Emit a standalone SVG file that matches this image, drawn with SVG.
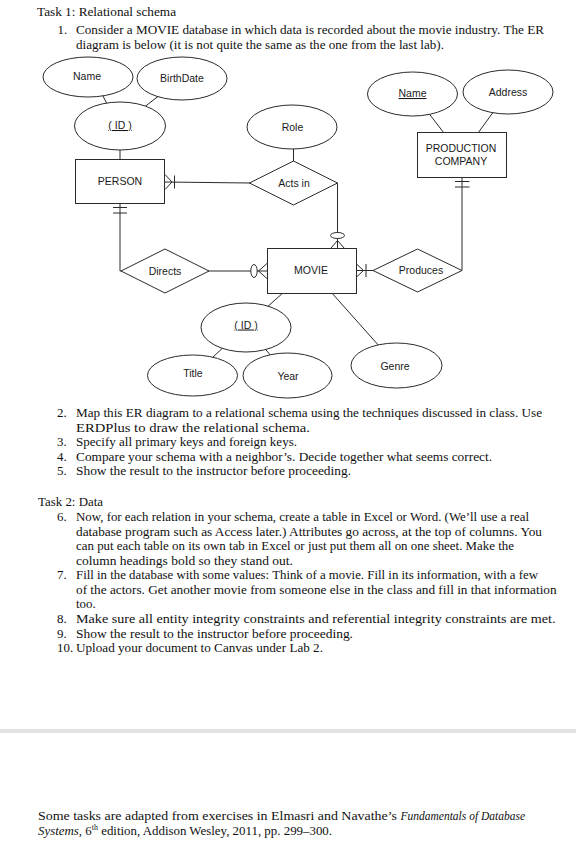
<svg xmlns="http://www.w3.org/2000/svg" width="576" height="842" viewBox="0 0 576 842">
<style>
.bg{fill:#fff}
.ell,.box,.dia{fill:#fff;stroke:#2a2a2a;stroke-width:1}
.cn line,.cn polyline{stroke:#2a2a2a;stroke-width:1;fill:none}
.cn ellipse{fill:#fff;stroke:#2a2a2a;stroke-width:1}
.lbl{font-family:"Liberation Sans",Arial,sans-serif;font-size:10.5px;fill:#1a1a1a;text-anchor:middle}
.u{text-decoration:underline}
.t{font-family:"Liberation Serif","Times New Roman",serif;font-size:12.9px;fill:#111}
.i{font-style:italic}
</style>
<rect class="bg" x="0" y="0" width="576" height="842"/>

<g id="page-text">
<text class="t" x="37" y="16" textLength="139" lengthAdjust="spacingAndGlyphs">Task 1: Relational schema</text>
<text class="t" x="57.5" y="33.5">1.</text>
<text class="t" x="76" y="33.5" textLength="468" lengthAdjust="spacingAndGlyphs">Consider a MOVIE database in which data is recorded about the movie industry. The ER</text>
<text class="t" x="76" y="48.5" textLength="368" lengthAdjust="spacingAndGlyphs">diagram is below (it is not quite the same as the one from the last lab).</text>

<text class="t" x="57" y="417">2.</text>
<text class="t" x="76" y="417" textLength="466" lengthAdjust="spacingAndGlyphs">Map this ER diagram to a relational schema using the techniques discussed in class. Use</text>
<text class="t" x="76" y="431.6" textLength="234" lengthAdjust="spacingAndGlyphs">ERDPlus to draw the relational schema.</text>
<text class="t" x="57" y="446.2">3.</text>
<text class="t" x="76" y="446.2" textLength="221" lengthAdjust="spacingAndGlyphs">Specify all primary keys and foreign keys.</text>
<text class="t" x="57" y="460.8">4.</text>
<text class="t" x="76" y="460.8" textLength="416" lengthAdjust="spacingAndGlyphs">Compare your schema with a neighbor’s. Decide together what seems correct.</text>
<text class="t" x="57" y="475.4">5.</text>
<text class="t" x="76" y="475.4" textLength="275" lengthAdjust="spacingAndGlyphs">Show the result to the instructor before proceeding.</text>

<text class="t" x="38" y="506" textLength="65" lengthAdjust="spacingAndGlyphs">Task 2: Data</text>
<text class="t" x="57" y="521">6.</text>
<text class="t" x="76" y="521" textLength="453" lengthAdjust="spacingAndGlyphs">Now, for each relation in your schema, create a table in Excel or Word. (We’ll use a real</text>
<text class="t" x="76" y="535.5" textLength="466" lengthAdjust="spacingAndGlyphs">database program such as Access later.) Attributes go across, at the top of columns. You</text>
<text class="t" x="76" y="550" textLength="438" lengthAdjust="spacingAndGlyphs">can put each table on its own tab in Excel or just put them all on one sheet. Make the</text>
<text class="t" x="76" y="564.5" textLength="217" lengthAdjust="spacingAndGlyphs">column headings bold so they stand out.</text>
<text class="t" x="57" y="579.2">7.</text>
<text class="t" x="76" y="579.2" textLength="462" lengthAdjust="spacingAndGlyphs">Fill in the database with some values: Think of a movie. Fill in its information, with a few</text>
<text class="t" x="76" y="593.8" textLength="480.6" lengthAdjust="spacingAndGlyphs">of the actors. Get another movie from someone else in the class and fill in that information</text>
<text class="t" x="76" y="608.4">too.</text>
<text class="t" x="57" y="623">8.</text>
<text class="t" x="76" y="623" textLength="479.5" lengthAdjust="spacingAndGlyphs">Make sure all entity integrity constraints and referential integrity constraints are met.</text>
<text class="t" x="57" y="637.6">9.</text>
<text class="t" x="76" y="637.6" textLength="277" lengthAdjust="spacingAndGlyphs">Show the result to the instructor before proceeding.</text>
<text class="t" x="57" y="652.2">10.</text>
<text class="t" x="76" y="652.2" textLength="247" lengthAdjust="spacingAndGlyphs">Upload your document to Canvas under Lab 2.</text>

<rect x="0" y="729" width="576" height="4" fill="#e3e3e3"/>

<text class="t" x="38" y="820" textLength="359" lengthAdjust="spacingAndGlyphs">Some tasks are adapted from exercises in Elmasri and Navathe’s</text>
<text class="t i" x="400.5" y="820" textLength="124.5" lengthAdjust="spacingAndGlyphs">Fundamentals of Database</text>
<text class="t" x="38" y="835"><tspan class="i">Systems</tspan>, 6<tspan dy="-5" style="font-size:8px">th</tspan><tspan dy="5"> edition, Addison Wesley, 2011, pp. 299–300.</tspan></text>
</g>

<g id="connectors" class="cn">
<line x1="102" y1="94" x2="107" y2="104"/>
<line x1="160" y1="95" x2="143" y2="108"/>
<line x1="120" y1="148" x2="120" y2="160"/>
<line x1="293.5" y1="147" x2="293.5" y2="163"/>
<line x1="165" y1="182" x2="250" y2="183"/>
<line x1="165" y1="174.5" x2="172" y2="182"/>
<line x1="165" y1="189.5" x2="172" y2="182"/>
<line x1="174.5" y1="175.5" x2="174.5" y2="188.5"/>
<line x1="337.5" y1="183" x2="337.5" y2="248.5"/>
<line x1="330.5" y1="248.5" x2="337.5" y2="240.5"/>
<line x1="344.5" y1="248.5" x2="337.5" y2="240.5"/>
<ellipse cx="337.5" cy="235.5" rx="7" ry="3"/>
<polyline points="120,203.5 120,271 122,271"/>
<line x1="113" y1="207.5" x2="127" y2="207.5"/>
<line x1="113" y1="213" x2="127" y2="213"/>
<line x1="208" y1="271" x2="267.5" y2="271"/>
<line x1="267.5" y1="263" x2="258.5" y2="271"/>
<line x1="267.5" y1="279" x2="258.5" y2="271"/>
<ellipse cx="254" cy="271" rx="3.2" ry="6.5"/>
<line x1="356.5" y1="270.5" x2="374" y2="270.5"/>
<line x1="356.5" y1="264" x2="363.5" y2="270.5"/>
<line x1="356.5" y1="277" x2="363.5" y2="270.5"/>
<line x1="366" y1="264" x2="366" y2="277"/>
<line x1="462" y1="177.5" x2="462" y2="270.5"/>
<line x1="455" y1="181.5" x2="469.5" y2="181.5"/>
<line x1="455" y1="187" x2="469.5" y2="187"/>
<line x1="427" y1="111" x2="444" y2="133"/>
<line x1="494" y1="111" x2="478" y2="133"/>
<line x1="284" y1="292" x2="266" y2="308"/>
<line x1="331" y1="292" x2="380" y2="347"/>
<line x1="227" y1="344" x2="213" y2="357"/>
<line x1="261" y1="344" x2="272" y2="357"/>
</g>

<g id="person-name"><ellipse class="ell" cx="88" cy="77" rx="45" ry="20"/><text class="lbl" x="87" y="79.5">Name</text></g>
<g id="birthdate"><ellipse class="ell" cx="182" cy="78.5" rx="45" ry="21.5"/><text class="lbl" x="182" y="81.5">BirthDate</text></g>
<g id="person-id"><ellipse class="ell" cx="120" cy="126" rx="45.5" ry="24"/><text class="lbl u" x="120" y="129">( ID )</text></g>
<g id="person"><rect class="box" x="75.5" y="159.5" width="89" height="44"/><text class="lbl" x="120" y="185">PERSON</text></g>
<g id="role"><ellipse class="ell" cx="292" cy="127" rx="45" ry="22"/><text class="lbl" x="292.5" y="130.5">Role</text></g>
<g id="acts-in"><polygon class="dia" points="249.5,183 293.5,161 337.5,183 293.5,205"/><text class="lbl" x="294" y="186.5">Acts in</text></g>
<g id="prod-name"><ellipse class="ell" cx="412.5" cy="94" rx="45" ry="22"/><text class="lbl u" x="412.5" y="97">Name</text></g>
<g id="address"><ellipse class="ell" cx="508" cy="92" rx="45" ry="22"/><text class="lbl" x="508" y="95.5">Address</text></g>
<g id="production-company"><rect class="box" x="417.5" y="132.5" width="89" height="45"/><text class="lbl" x="461" y="152">PRODUCTION</text><text class="lbl" x="461" y="164.5">COMPANY</text></g>
<g id="directs"><polygon class="dia" points="121,271 165,249 209,271 165,293"/><text class="lbl" x="165" y="274.5">Directs</text></g>
<g id="movie"><rect class="box" x="267.5" y="248.5" width="89" height="45"/><text class="lbl" x="311" y="274">MOVIE</text></g>
<g id="produces"><polygon class="dia" points="373,270.5 417.5,249 462,270.5 417.5,292"/><text class="lbl" x="421" y="274">Produces</text></g>
<g id="movie-id"><ellipse class="ell" cx="246" cy="327.5" rx="45" ry="24.5"/><text class="lbl u" x="246" y="328.5">( ID )</text></g>
<g id="title"><ellipse class="ell" cx="192.5" cy="375.5" rx="45" ry="20.5"/><text class="lbl" x="193" y="377">Title</text></g>
<g id="year"><ellipse class="ell" cx="287.5" cy="375.5" rx="44.5" ry="22.5"/><text class="lbl" x="288" y="379.5">Year</text></g>
<g id="genre"><ellipse class="ell" cx="396.5" cy="365.5" rx="45.5" ry="22.5"/><text class="lbl" x="395" y="369.5">Genre</text></g>
</svg>
